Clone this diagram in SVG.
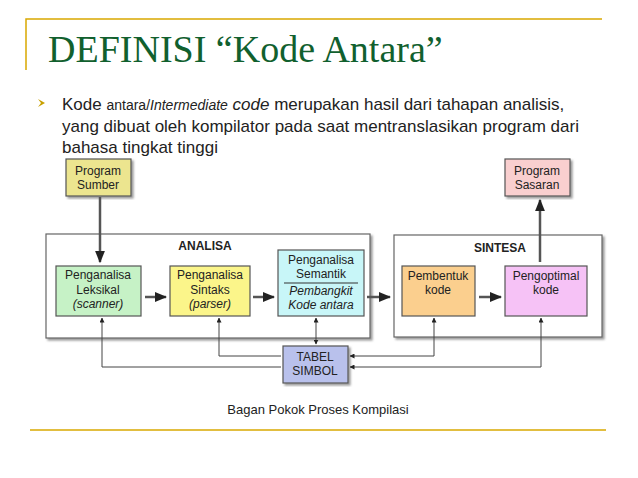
<svg xmlns="http://www.w3.org/2000/svg" width="638" height="478" viewBox="0 0 638 478">
<defs>
<style>
.n{stroke:#555;stroke-width:1.2}
.t{font-family:"Liberation Sans",Arial,sans-serif;font-size:12px;fill:#222;text-anchor:middle}
.c{fill:none;stroke:#444;stroke-width:1}
.b{fill:none;stroke:#555;stroke-width:2.5}
.body{font-family:"Liberation Sans",Arial,sans-serif;font-size:17px;fill:#222}
</style>
<marker id="a" viewBox="0 0 10 10" refX="9" refY="5" markerWidth="5" markerHeight="5" orient="auto-start-reverse"><path d="M0,0L10,5L0,10z" fill="#222"/></marker>
<marker id="s" viewBox="0 0 10 10" refX="9" refY="5" markerWidth="5" markerHeight="5" orient="auto-start-reverse"><path d="M0,1L10,5L0,9z" fill="#222"/></marker>
<filter id="sh"><feDropShadow dx="2" dy="2" stdDeviation="1" flood-color="#999"/></filter>
</defs>
<rect width="638" height="478" fill="#fff"/>
<path d="M26,70V19H602" fill="none" stroke="#d9a800" stroke-width="1.5"/>
<path d="M30,430H606" fill="none" stroke="#d9a800" stroke-width="1.5"/>
<text x="48" y="62" font-family="Liberation Serif,serif" font-size="38" fill="#11602e">DEFINISI “Kode Antara”</text>
<path d="M38,99L45,103L38,107L41,103z" fill="#c8a000"/>
<text class="body" x="62" y="110">Kode <tspan font-size="14">antara/</tspan><tspan font-size="14" font-style="italic">Intermediate</tspan><tspan font-style="italic"> code</tspan> merupakan hasil dari tahapan analisis,</text>
<text class="body" x="62" y="132">yang dibuat oleh kompilator pada saat mentranslasikan program dari</text>
<text class="body" x="62" y="153">bahasa tingkat tinggi</text>

<g id="analisa"><rect x="46" y="234" width="324" height="104" fill="#fff" stroke="#666" stroke-width="1.2" filter="url(#sh)"/><text class="t" x="205" y="250" font-weight="bold">ANALISA</text></g>
<g id="sintesa"><rect x="394" y="235" width="208" height="102" fill="#fff" stroke="#666" stroke-width="1.2" filter="url(#sh)"/><text class="t" x="500" y="252" font-weight="bold">SINTESA</text></g>
<g id="sumber"><rect class="n" x="66" y="159" width="65" height="37" fill="#ece58f" filter="url(#sh)"/><text class="t" x="98" y="175">Program</text><text class="t" x="98" y="189">Sumber</text></g>
<g id="sasaran"><rect class="n" x="505" y="159" width="65" height="37" fill="#f9cfcf" filter="url(#sh)"/><text class="t" x="537" y="175">Program</text><text class="t" x="537" y="189">Sasaran</text></g>
<g id="leksikal"><rect class="n" x="56" y="266" width="85" height="50" fill="#c6f2c6"/><text class="t" x="98" y="279">Penganalisa</text><text class="t" x="98" y="294">Leksikal</text><text class="t" x="98" y="308" font-style="italic">(scanner)</text></g>
<g id="sintaks"><rect class="n" x="170" y="266" width="80" height="50" fill="#fbf58a"/><text class="t" x="210" y="279">Penganalisa</text><text class="t" x="210" y="294">Sintaks</text><text class="t" x="210" y="308" font-style="italic">(parser)</text></g>
<g id="semantik"><rect class="n" x="278" y="250" width="86" height="66" fill="#c8f6f8"/><text class="t" x="321" y="264">Penganalisa</text><text class="t" x="321" y="278">Semantik</text><line x1="284" y1="283" x2="358" y2="283" stroke="#333"/><text class="t" x="321" y="295" font-style="italic">Pembangkit</text><text class="t" x="321" y="309" font-style="italic">Kode antara</text></g>
<g id="pembentuk"><rect class="n" x="402" y="266" width="73" height="50" fill="#fbcf8e"/><text class="t" x="438" y="280">Pembentuk</text><text class="t" x="438" y="294">kode</text></g>
<g id="pengoptimal"><rect class="n" x="505" y="266" width="82" height="50" fill="#f6c2f6"/><text class="t" x="546" y="280">Pengoptimal</text><text class="t" x="546" y="294">kode</text></g>
<g id="tabel"><rect class="n" x="283" y="346" width="65" height="37" fill="#b9c1ec" filter="url(#sh)"/><text class="t" x="315" y="361">TABEL</text><text class="t" x="315" y="375">SIMBOL</text></g>

<g id="connectors">
<path class="b" d="M100,197V262" marker-end="url(#s)"/>
<path class="b" d="M145,297H166" marker-end="url(#s)"/>
<path class="b" d="M253,297H274" marker-end="url(#s)"/>
<path class="b" d="M367,297H390" marker-end="url(#s)"/>
<path class="b" d="M479,297H501" marker-end="url(#s)"/>
<path class="b" d="M540,262V200" marker-end="url(#s)"/>
<path class="c" d="M281,367H102V318" marker-end="url(#a)"/>
<path class="c" d="M281,356H219V318" marker-end="url(#a)"/>
<path class="c" d="M316,344V318" marker-start="url(#a)" marker-end="url(#a)"/>
<path class="c" d="M350,356H434V318" marker-start="url(#a)" marker-end="url(#a)"/>
<path class="c" d="M350,367H541V318" marker-start="url(#a)" marker-end="url(#a)"/>
</g>
<text x="318" y="414" font-family="Liberation Sans,Arial,sans-serif" font-size="13" fill="#222" text-anchor="middle">Bagan Pokok Proses Kompilasi</text>
</svg>
